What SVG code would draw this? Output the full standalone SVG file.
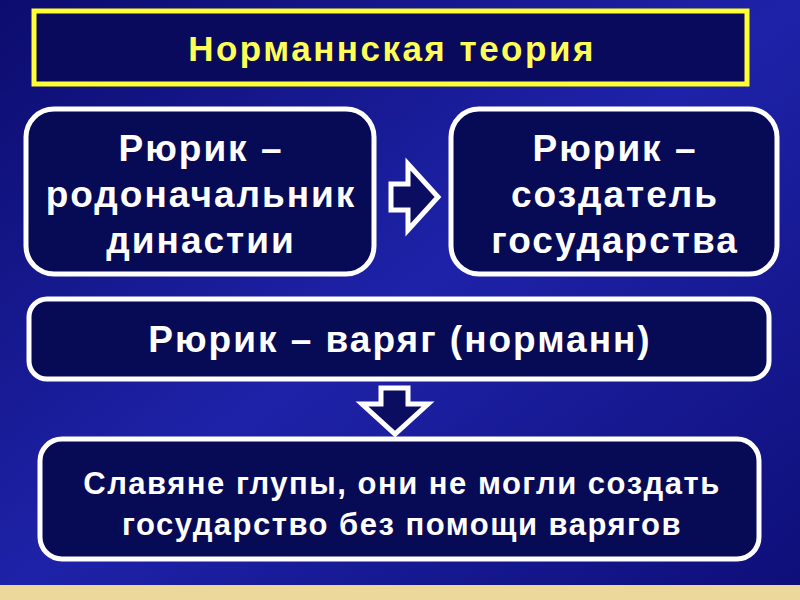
<svg xmlns="http://www.w3.org/2000/svg" width="800" height="600" viewBox="0 0 800 600">
<defs>
<linearGradient id="bg" x1="0" y1="0" x2="1" y2="1">
<stop offset="0" stop-color="#0c0c6e"/><stop offset="0.5" stop-color="#1e22a8"/><stop offset="1" stop-color="#0e0e78"/>
</linearGradient>
<style>
.box{fill:#070a55;stroke:#ffffff;stroke-width:5}
.t{font-family:"Liberation Sans",Arial,sans-serif;font-weight:bold;fill:#ffffff;text-anchor:middle;letter-spacing:2px}
.arr{fill:#0a0d60;stroke:#ffffff;stroke-width:5;stroke-linejoin:miter}
</style>
</defs>
<rect width="800" height="600" fill="url(#bg)"/>
<rect x="0" y="585" width="800" height="15" fill="#ecd89a"/>
<g id="title">
<rect x="34" y="11" width="713" height="73" fill="#0a0a5c" stroke="#ffff33" stroke-width="5"/>
<text class="t" x="392" y="61" font-size="35" style="fill:#ffff55;letter-spacing:2.5px">Норманнская теория</text>
</g>
<g id="n1">
<rect class="box" x="26" y="109" width="348" height="165" rx="28"/>
<text class="t" x="201" y="161" font-size="37">Рюрик –</text>
<text class="t" x="201" y="207" font-size="37">родоначальник</text>
<text class="t" x="201" y="253" font-size="37">династии</text>
</g>
<g id="n2">
<rect class="box" x="451" y="109" width="326" height="165" rx="28"/>
<text class="t" x="615" y="161" font-size="37">Рюрик –</text>
<text class="t" x="615" y="207" font-size="37">создатель</text>
<text class="t" x="615" y="253" font-size="37">государства</text>
</g>
<g id="n3">
<rect class="box" x="29" y="299" width="740" height="80" rx="18"/>
<text class="t" x="400" y="352" font-size="37">Рюрик – варяг (норманн)</text>
</g>
<g id="n4">
<rect class="box" x="40" y="439" width="719" height="120" rx="22"/>
<text class="t" x="402" y="494" font-size="31" style="letter-spacing:1.5px">Славяне глупы, они не могли создать</text>
<text class="t" x="402" y="535" font-size="31" style="letter-spacing:1.5px">государство без помощи варягов</text>
</g>
<g id="connectors">
<polygon class="arr" points="391,184 408,184 408,164 438,197 408,230 408,210 391,210"/>
<polygon class="arr" points="381,388 408,388 408,404 428,404 395,434 362,404 381,404"/>
</g>
</svg>
